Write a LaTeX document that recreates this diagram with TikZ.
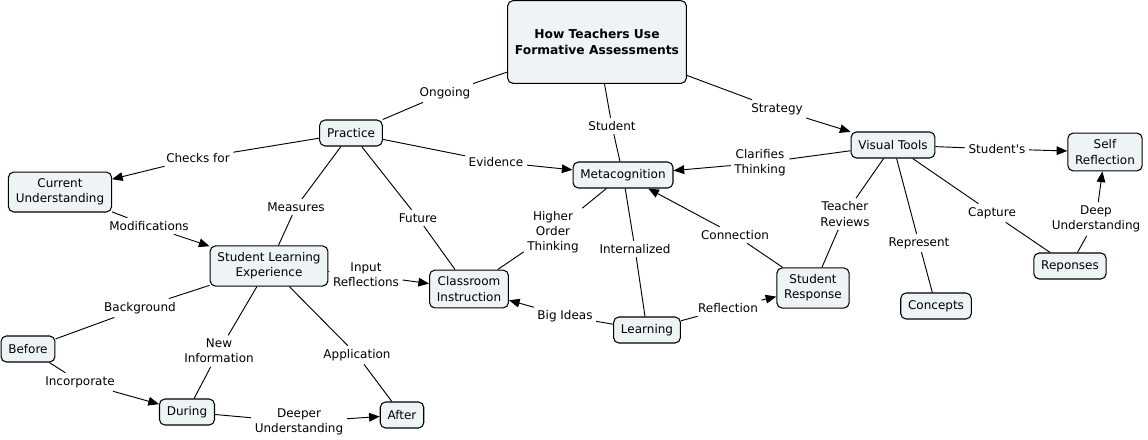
\documentclass[tikz,border=0pt]{standalone}
\usepackage{fontspec}
\setmainfont{DejaVu Sans}
\usetikzlibrary{arrows.meta}
\definecolor{conceptfill}{HTML}{EEF3F5}
\begin{document}
\begin{tikzpicture}[
    x=0.75pt, y=-0.75pt,
    font=\fontsize{9pt}{11.4pt}\selectfont,
    concept/.style={rectangle, draw, line width=0.8pt, fill=conceptfill, rounded corners=4pt, align=center, inner xsep=5.5pt, inner ysep=5pt, minimum height=19.5pt},
    phrase/.style={align=center, inner sep=2.5pt},
    link/.style={line width=0.7pt},
    linkto/.style={line width=0.7pt, -{Triangle[length=8pt, width=6.5pt]}}
]
\useasboundingbox (0,0) rectangle (1148,439);

% Main concept
\node[concept, font=\fontsize{9.2pt}{11.6pt}\selectfont\bfseries, minimum width=132pt, minimum height=62pt] (main) at (597, 42) {How Teachers Use\\Formative Assessments};

% Concepts
\node[concept] (practice) at (351, 133) {Practice};
\node[concept] (current) at (60, 192) {Current\\Understanding};
\node[concept] (meta) at (623, 175) {Metacognition};
\node[concept] (visual) at (893, 145) {Visual Tools};
\node[concept] (self) at (1105, 152) {Self\\Reflection};
\node[concept] (sle) at (269, 266) {Student Learning\\Experience};
\node[concept] (classroom) at (469, 289) {Classroom\\Instruction};
\node[concept] (learning) at (647, 330) {Learning};
\node[concept] (response) at (813, 288) {Student\\Response};
\node[concept] (concepts) at (936, 306) {Concepts};
\node[concept] (reponses) at (1070, 266) {Reponses};
\node[concept] (before) at (28, 349) {Before};
\node[concept] (during) at (187, 412) {During};
\node[concept] (after) at (402, 415) {After};

% Linking phrases
\node[phrase] (ongoing) at (445, 93) {Ongoing};
\node[phrase] (student) at (612, 126) {Student};
\node[phrase] (strategy) at (777, 109) {Strategy};
\node[phrase] (checks) at (198, 158) {Checks for};
\node[phrase] (evidence) at (496, 162) {Evidence};
\node[phrase] (clarifies) at (760, 163) {Clarifies\\Thinking};
\node[phrase] (students) at (997, 149) {Student\textquotesingle s};
\node[phrase] (measures) at (296, 207) {Measures};
\node[phrase] (future) at (418, 218) {Future};
\node[phrase] (higher) at (553, 232) {Higher\\Order\\Thinking};
\node[phrase] (internal) at (635, 249) {Internalized};
\node[phrase] (connection) at (735, 235) {Connection};
\node[phrase] (reviews) at (845, 214) {Teacher\\Reviews};
\node[phrase] (represent) at (919, 243) {Represent};
\node[phrase] (capture) at (992, 213) {Capture};
\node[phrase] (deep) at (1096, 219) {Deep\\Understanding};
\node[phrase] (modif) at (149, 226) {Modifications};
\node[phrase] (input) at (366, 275) {Input\\Reflections};
\node[phrase] (background) at (140, 308) {Background};
\node[phrase] (newinfo) at (219, 351) {New\\Information};
\node[phrase] (application) at (357, 355) {Application};
\node[phrase] (incorporate) at (80, 382) {Incorporate};
\node[phrase] (deeper) at (299, 422) {Deeper\\Understanding};
\node[phrase] (bigideas) at (565, 316) {Big Ideas};
\node[phrase] (reflection) at (728, 308) {Reflection};

% Links from the main concept
\draw[link] (main) -- (ongoing) -- (practice);
\draw[link] (main) -- (student) -- (meta);
\draw[linkto] (main) -- (strategy) -- (visual);

% Practice
\draw[linkto] (practice) -- (checks) -- (current);
\draw[linkto] (practice) -- (evidence) -- (meta);
\draw[link] (practice) -- (measures) -- (sle);
\draw[link] (practice) -- (future) -- (classroom);

% Visual Tools
\draw[linkto] (visual) -- (clarifies) -- (meta);
\draw[linkto] (visual) -- (students) -- (self);
\draw[link] (visual) -- (reviews) -- (response);
\draw[link] (visual) -- (represent) -- (concepts);
\draw[link] (visual) -- (capture) -- (reponses);
\draw[linkto] (reponses) -- (deep) -- (self);

% Student Learning Experience
\draw[linkto] (current) -- (modif) -- (sle);
\draw[linkto] (sle) -- (input) -- (classroom);
\draw[link] (sle) -- (background) -- (before);
\draw[link] (sle) -- (newinfo) -- (during);
\draw[link] (sle) -- (application) -- (after);
\draw[linkto] (before) -- (incorporate) -- (during);
\draw[linkto] (during) -- (deeper) -- (after);

% Metacognition and Learning
\draw[link] (meta) -- (higher) -- (classroom);
\draw[link] (meta) -- (internal) -- (learning);
\draw[linkto] (response) -- (connection) -- (meta);
\draw[linkto] (learning) -- (bigideas) -- (classroom);
\draw[linkto] (learning) -- (reflection) -- (response);

\end{tikzpicture}
\end{document}
